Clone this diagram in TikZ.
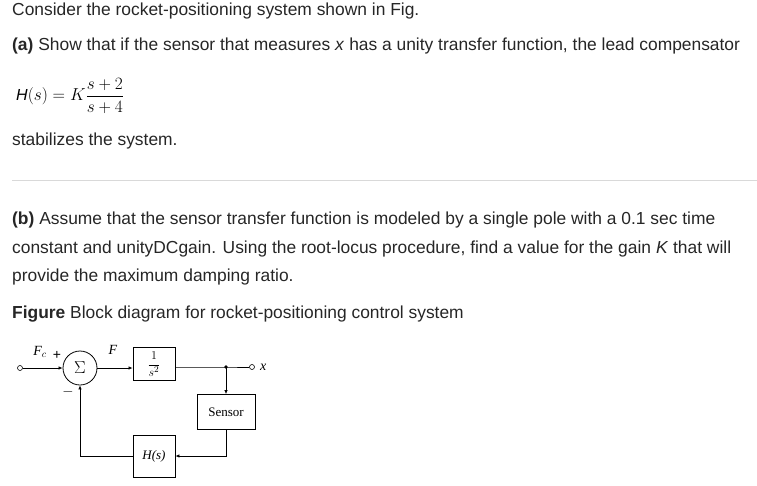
\documentclass[tikz,border=0pt]{standalone}
\usepackage{fontspec}
\setmainfont{Liberation Sans}
\newfontfamily\serifd{Liberation Serif}
\usetikzlibrary{arrows.meta}
\begin{document}
\begin{tikzpicture}[x=1pt,y=-1pt,
  txt/.style={anchor=west,inner sep=0pt,font=\fontsize{17.4}{20}\selectfont,text=black!85},
  blk/.style={draw,fill=white,line width=0.8pt,inner sep=0pt,font=\serifd\fontsize{13}{15}\selectfont},
  lab/.style={inner sep=0pt,font=\serifd\itshape\fontsize{14}{16}\selectfont},
  arr/.style={-{Latex[length=4pt,width=3.5pt]},line width=0.7pt},
  ln/.style={line width=0.7pt}]
\useasboundingbox (0,0) rectangle (757,485);
\node[txt] (t1) at (12,11) {Consider the rocket-positioning system shown in Fig.};
\node[txt] (t2) at (12,46) {\textbf{(a)} Show that if the sensor that measures \textit{x} has a unity transfer function, the lead compensator};
\node[anchor=west,inner sep=0pt,font=\serifd\fontsize{16}{18}\selectfont] (hf) at (16,96) {$\mathit{H}(s)=K\displaystyle\frac{s+2}{s+4}$};
\node[txt] (t3) at (12,141) {stabilizes the system.};
\draw[black!15,line width=0.8pt] (12,180) -- (757,180);
\node[txt] (t4) at (12,220) {\textbf{(b)} Assume that the sensor transfer function is modeled by a single pole with a 0.1 sec time};
\node[txt] (t5) at (12,249) {constant and unityDCgain. Using the root-locus procedure, find a value for the gain \textit{K} that will};
\node[txt] (t6) at (12,277) {provide the maximum damping ratio.};
\node[txt] (t7) at (12,314) {\textbf{Figure} Block diagram for rocket-positioning control system};
% diagram
\node[draw,circle,inner sep=0pt,minimum size=5pt,line width=0.6pt] (in) at (20,368) {};
\node[draw,circle,minimum size=34pt,inner sep=0pt,line width=0.8pt,font=\fontsize{16}{18}\selectfont] (sum) at (80,368) {$\Sigma$};
\node[blk,minimum width=42pt,minimum height=33pt,font=\fontsize{13}{15}\selectfont] (g) at (154,364) {$\displaystyle\frac{1}{s^2}$};
\coordinate (j) at (226,367);
\node[draw,circle,inner sep=0pt,minimum size=5pt,line width=0.6pt] (out) at (252,367) {};
\node[lab,anchor=west] (xl) at (260,367) {x};
\node[blk,minimum width=58pt,minimum height=35pt] (sen) at (226,412) {Sensor};
\node[blk,minimum width=42pt,minimum height=42pt,font=\serifd\itshape\fontsize{13}{15}\selectfont] (h) at (154,456) {H(s)};
\node[lab] (fc) at (40,352) {F$_c$};
\node[inner sep=0pt,font=\fontsize{14}{16}\selectfont] (pl) at (57,355) {+};
\node[lab] (fl) at (113,350) {F};
\node[inner sep=0pt,font=\fontsize{14}{16}\selectfont] (mi) at (68,392) {$-$};
\draw[arr] (in) -- (sum);
\draw[arr] (sum) -- (g.west |- sum);
\draw[ln] (g.east |- j) -- (j) -- (out);
\fill (j) circle (1.8pt);
\draw[arr] (j) -- (sen);
\draw[arr] (sen.south) |- (h.east);
\draw[arr] (h.west) -| (sum.south);
\end{tikzpicture}
\end{document}
